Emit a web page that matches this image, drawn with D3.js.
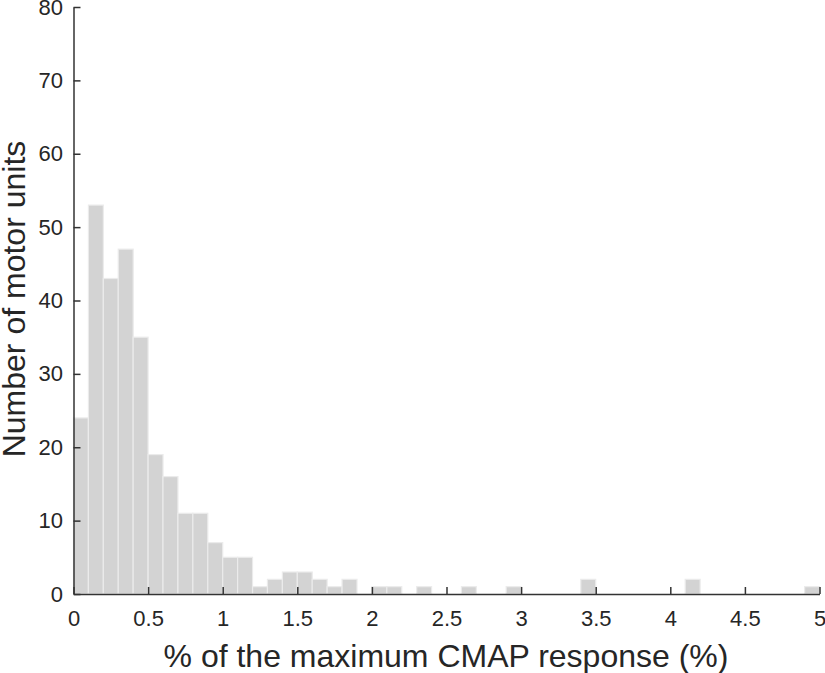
<!DOCTYPE html>
<html><head><meta charset="utf-8">
<script src="https://cdn.jsdelivr.net/npm/d3@7"></script>
<style>body{margin:0;background:#fff}svg{display:block}text{font-family:"Liberation Sans",Arial,sans-serif;fill:#262626}</style>
</head><body>
<svg id="c" width="825" height="673"></svg>
<script>
const binEdgesStart = 0, binWidth = 0.1;
const counts = [24,53,43,47,35,19,16,11,11,7,5,5,1,2,3,3,2,1,2,0,1,1,0,1,0,0,1,0,0,1,0,0,0,0,2,0,0,0,0,0,0,2,0,0,0,0,0,0,0,1];
const xTicks = [0,0.5,1,1.5,2,2.5,3,3.5,4,4.5,5];
const yTicks = [0,10,20,30,40,50,60,70,80];
const xLabel = "% of the maximum CMAP response (%)";
const yLabel = "Number of motor units";

const svg = d3.select("#c");
const x = d3.scaleLinear().domain([0,5]).range([73.5,819.5]);
const y = d3.scaleLinear().domain([0,80]).range([594,7]);

const bins = counts.map((c,i)=>({x0:binEdgesStart+i*binWidth,x1:binEdgesStart+(i+1)*binWidth,c}));
svg.append("g").selectAll("rect").data(bins.filter(d=>d.c>0)).join("rect")
  .attr("x",d=>x(d.x0)).attr("width",d=>x(d.x1)-x(d.x0))
  .attr("y",d=>y(d.c)).attr("height",d=>y(0)-y(d.c))
  .attr("fill","#d3d3d3").attr("stroke","#ebebeb").attr("stroke-width",1.2);

const xa = svg.append("g").attr("transform",`translate(0,${y(0)})`)
  .call(d3.axisBottom(x).tickValues(xTicks).tickFormat(d3.format("~g")).tickSizeInner(-7).tickSizeOuter(0).tickPadding(16));
const ya = svg.append("g").attr("transform",`translate(${x(0)},0)`)
  .call(d3.axisLeft(y).tickValues(yTicks).tickSizeInner(-7).tickSizeOuter(0).tickPadding(10.5));
[xa,ya].forEach(a=>{
  a.select(".domain").attr("stroke","#333").attr("stroke-width",1.5);
  a.selectAll(".tick line").attr("stroke","#333").attr("stroke-width",1.5);
  a.selectAll(".tick text").attr("font-size",22).attr("fill","#262626").style("font-family","Liberation Sans, Arial, sans-serif");
});

svg.append("text").attr("x",446).attr("y",667).attr("text-anchor","middle").attr("font-size",32).text(xLabel);
svg.append("text").attr("transform","translate(25,299) rotate(-90)").attr("text-anchor","middle").attr("font-size",32).text(yLabel);
</script>
</body></html>
